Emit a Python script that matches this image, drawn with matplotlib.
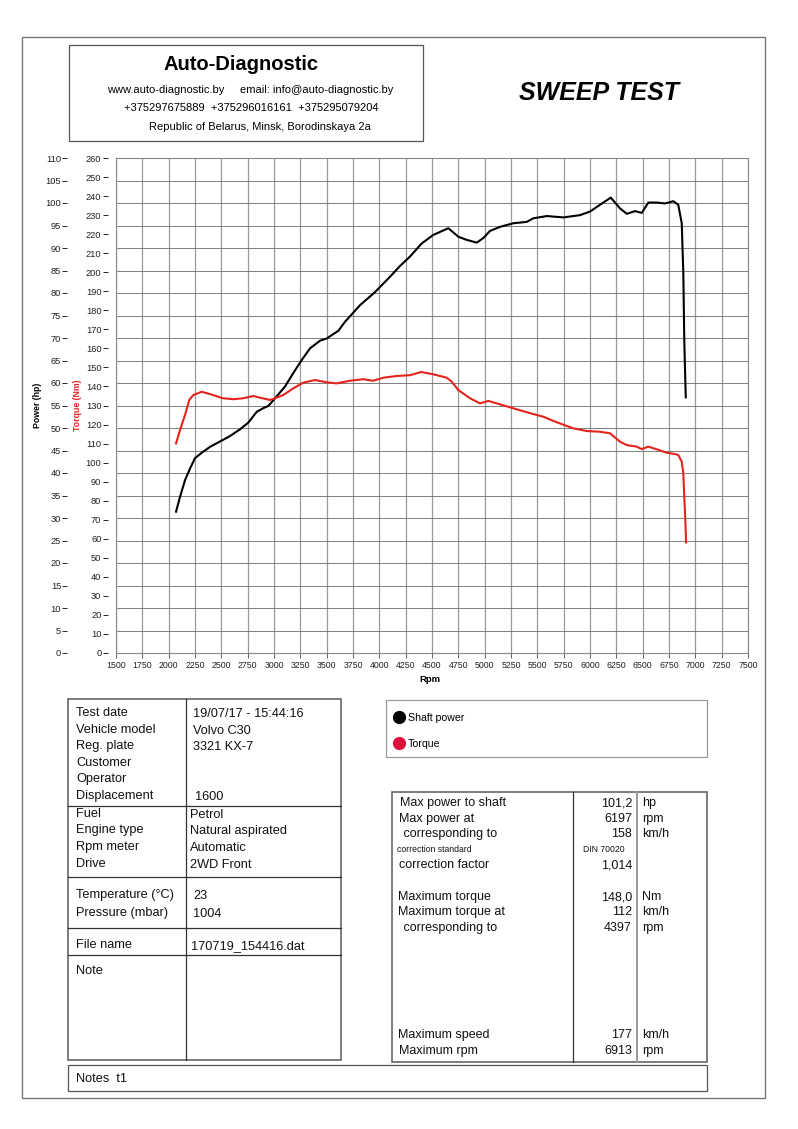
import matplotlib
matplotlib.use("Agg")
import matplotlib.pyplot as plt
from matplotlib.patches import Rectangle
from matplotlib.lines import Line2D

# ---------------- data ----------------
rpm_power = [2070, 2108, 2155, 2203, 2250, 2314, 2392, 2487, 2582, 2677, 2756, 2836, 2898, 2946,
             3010, 3104, 3183, 3263, 3342, 3437, 3500, 3611, 3674, 3817, 3959, 4101, 4196, 4291,
             4402, 4512, 4655, 4750, 4830, 4925, 4987, 5051, 5146, 5272, 5399, 5462, 5589, 5747,
             5905, 6000, 6095, 6197, 6285, 6349, 6428, 6491, 6554, 6633, 6712, 6791, 6838, 6871,
             6886, 6895, 6909]
power_hp = [31.4, 34.7, 38.4, 41.0, 43.3, 44.5, 45.8, 47.0, 48.2, 49.7, 51.2, 53.6, 54.4, 54.9,
            56.6, 59.2, 62.2, 65.1, 67.7, 69.4, 69.9, 71.6, 73.6, 77.3, 80.2, 83.6, 86.0, 88.1,
            91.0, 92.9, 94.4, 92.5, 91.8, 91.2, 92.2, 93.8, 94.7, 95.5, 95.8, 96.6, 97.1, 96.8,
            97.3, 98.1, 99.6, 101.2, 98.8, 97.6, 98.2, 97.8, 100.1, 100.1, 99.9, 100.4, 99.6, 95.5,
            84.4, 69.6, 56.8]

rpm_torque = [2070, 2108, 2155, 2196, 2234, 2314, 2392, 2516, 2611, 2709, 2804, 2867, 2962, 3010,
              3088, 3183, 3278, 3389, 3500, 3595, 3722, 3848, 3943, 4038, 4165, 4291, 4397, 4512,
              4640, 4687, 4750, 4861, 4956, 5035, 5146, 5304, 5462, 5557, 5684, 5842, 5969, 6095,
              6190, 6285, 6349, 6443, 6491, 6554, 6633, 6728, 6807, 6838, 6871, 6886, 6895, 6905,
              6912]
torque_nm = [110.1, 117.1, 125.0, 132.9, 135.5, 137.2, 136.0, 133.8, 133.3, 133.8, 135.0, 134.1,
             132.9, 133.8, 135.5, 139.0, 142.0, 143.4, 142.2, 141.6, 143.0, 143.8, 143.0, 144.6,
             145.5, 145.9, 147.6, 146.4, 144.6, 142.5, 138.1, 133.8, 131.1, 132.4, 130.6, 128.0,
             125.5, 124.1, 121.2, 118.0, 116.6, 116.2, 115.4, 111.0, 109.2, 108.4, 107.1, 108.4,
             107.0, 105.2, 104.5, 104.0, 100.5, 94.4, 82.1, 69.9, 58.1]

rpm_ticks = list(range(1500, 7501, 250))
power_ticks = list(range(0, 111, 5))
torque_ticks = list(range(0, 261, 10))

info_labels = ["Test date", "Vehicle model", "Reg. plate", "Customer", "Operator", "Displacement",
               "Fuel", "Engine type", "Rpm meter", "Drive",
               "Temperature (°C)", "Pressure (mbar)", "File name", "Note"]
info_values = ["19/07/17 - 15:44:16", "Volvo C30", "3321 KX-7", "", "", "1600",
               "Petrol", "Natural aspirated", "Automatic", "2WD Front",
               "23", "1004", "170719_154416.dat", ""]

res_labels = ["Max power to shaft", "Max power at", " corresponding to", "correction standard",
              "correction factor", "Maximum torque", "Maximum torque at", " corresponding to",
              "Maximum speed", "Maximum rpm"]
res_values = ["101,2", "6197", "158", "DIN 70020", "1,014", "148,0", "112", "4397", "177", "6913"]
res_units = ["hp", "rpm", "km/h", "", "", "Nm", "km/h", "rpm", "km/h", "rpm"]

# ---------------- figure ----------------
W, H = 798, 1129
FONT = "Liberation Sans"
plt.rcParams["font.family"] = [FONT, "DejaVu Sans"]
fig = plt.figure(figsize=(W / 100, H / 100), dpi=100)
fig.patch.set_facecolor("white")

RED = "#e4231d"
TICKFS = 6.7

# main plot axes (power) in pixel geometry
L, R, T, B = 116, 748, 158, 653
ax = fig.add_axes([L / W, 1 - B / H, (R - L) / W, (B - T) / H])
ax.set_xlim(1500, 7500)
ax.set_ylim(0, 110)
ax.set_xticks(rpm_ticks)
ax.set_yticks(power_ticks)
ax.grid(True, axis="x", color="#9a9a9a", lw=0.9)
ax.grid(True, axis="y", color="#6a6a6a", lw=0.6)
ax.set_axisbelow(True)
for s in ax.spines.values():
    s.set_color("#888")
    s.set_linewidth(0.8)
ax.spines["left"].set_position(("outward", 35))
ax.spines["left"].set_visible(False)
ax.plot([1500, 1500], [0, 110], color="#888", lw=0.8, clip_on=False)  # frame edge
ax.tick_params(axis="y", length=3.5, width=0.7, pad=1, color="#222",
               labelsize=TICKFS, labelcolor="#222")
ax.tick_params(axis="x", length=3.5, width=0.6, pad=2, color="#444",
               labelsize=6.3, labelcolor="#222")
ax.plot(rpm_power, power_hp, color="black", lw=1.5, zorder=3)

ax2 = ax.twinx()
ax2.set_ylim(0, 260)
ax2.yaxis.tick_left()
ax2.set_yticks(torque_ticks)
ax2.spines["left"].set_position(("outward", 6))
for side in ("left", "right", "top", "bottom"):
    ax2.spines[side].set_visible(False)
ax2.tick_params(axis="y", length=3.5, width=0.7, pad=1, color="#222",
                labelsize=TICKFS, labelcolor="#222")
ax2.plot(rpm_torque, torque_nm, color=RED, lw=1.5, zorder=3)

# ---------------- overlay (pixel coordinates) ----------------
ov = fig.add_axes([0, 0, 1, 1], zorder=-1)
ov.set_xlim(0, W)
ov.set_ylim(H, 0)
ov.axis("off")


def box(x0, y0, x1, y1, lw=0.9, ec="#666"):
    ov.add_patch(Rectangle((x0, y0), x1 - x0, y1 - y0, fill=False, ec=ec, lw=lw))


def hline(x0, x1, y, lw=0.9, c="#444"):
    ov.plot([x0, x1], [y, y], color=c, lw=lw)


def vline(x, y0, y1, lw=0.9, c="#444"):
    ov.plot([x, x], [y0, y1], color=c, lw=lw)


# outer frame
box(22, 37, 765, 1098, lw=1.0, ec="#777")

# header
box(69, 45, 423, 141, lw=0.9, ec="#555")
ov.text(241, 65, "Auto-Diagnostic", ha="center", va="center", fontsize=14.5, fontweight="bold")
ov.text(250, 90, "www.auto-diagnostic.by     email: info@auto-diagnostic.by", ha="center",
        va="center", fontsize=8.0)
ov.text(251, 108, "+375297675889  +375296016161  +375295079204", ha="center", va="center",
        fontsize=8.0)
ov.text(260, 127, "Republic of Belarus, Minsk, Borodinskaya 2a", ha="center", va="center",
        fontsize=8.0)
ov.text(599, 93, "SWEEP TEST", ha="center", va="center", fontsize=18, fontweight="bold",
        style="italic")

# axis titles
ov.text(37, 405, "Power (hp)", rotation=90, ha="center", va="center", fontsize=6.3,
        fontweight="bold")
ov.text(78, 405, "Torque (Nm)", rotation=90, ha="center", va="center", fontsize=6.3,
        fontweight="bold", color=RED)
ov.text(430, 679, "Rpm", ha="center", va="center", fontsize=6.8, fontweight="bold")

# legend box
box(386, 700, 707, 757, lw=0.9, ec="#999")
handles = [Line2D([], [], ls="none", marker="o", ms=8.5, mfc="black", mec="black"),
           Line2D([], [], ls="none", marker="o", ms=8.5, mfc="#e0103c", mec="#e0103c")]
fig.legend(handles, ["Shaft power", "Torque"], loc="upper left",
           bbox_to_anchor=(394 / W, 1 - 713 / H), frameon=False, fontsize=7.6,
           handletextpad=0.3, labelspacing=1.5, handlelength=1.0, borderpad=0.0,
           borderaxespad=0.0)

# left info table
box(68, 699, 341, 1060, lw=1.2, ec="#666")
vline(186, 699, 1060, c="#333")
for y in (806, 877, 928, 955):
    hline(68, 341, y, c="#333")
info_y = [713, 730, 746, 763, 779, 796, 814, 830, 847, 864, 895, 913, 945, 971]
info_vx = [193, 193, 193, 193, 193, 195, 190, 190, 190, 190, 193, 193, 191, 193]
for lab, val, y, vx in zip(info_labels, info_values, info_y, info_vx):
    ov.text(76, y, lab, ha="left", va="center", fontsize=9.2, color="#111")
    if val:
        ov.text(vx, y + 1, val, ha="left", va="center", fontsize=9.2, color="#111")

# right results table
box(392, 792, 707, 1062, lw=1.2, ec="#666")
vline(573, 792, 1062, c="#333")
vline(637, 792, 1062, c="#999", lw=1.4)
res_y = [803, 819, 834, 849, 865, 897, 912, 928, 1035, 1051]
res_x = [400, 399, 400, 397, 399, 398, 398, 400, 398, 399]
for lab, val, unit, y, x in zip(res_labels, res_values, res_units, res_y, res_x):
    small = lab == "correction standard"
    fs = 6.2 if small else 9.0
    ov.text(x, y, lab, ha="left", va="center", fontsize=fs, color="#111")
    if small:
        ov.text(583, y, val, ha="left", va="center", fontsize=6.2, color="#111")
    else:
        ov.text(632, y, val, ha="right", va="center", fontsize=9.0, color="#111")
    if unit:
        ov.text(642, y, unit, ha="left", va="center", fontsize=9.0, color="#111")

# notes box
box(68, 1065, 707, 1091, lw=0.9, ec="#555")
ov.text(76, 1079, "Notes  t1", ha="left", va="center", fontsize=9.2, color="#111")

fig.savefig("out.png", dpi=100, facecolor="white")
